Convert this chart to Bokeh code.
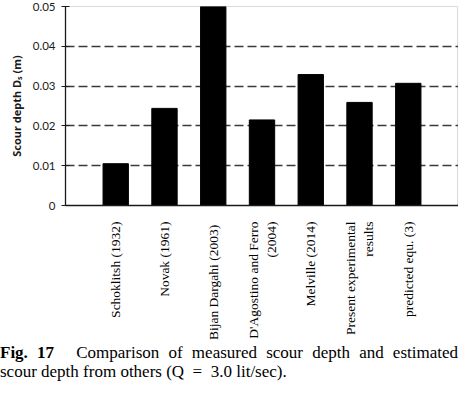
import math
from bokeh.plotting import figure
from bokeh.layouts import column
from bokeh.models import FactorRange, Range1d, FixedTicker, Div, Title
from bokeh.embed import file_html
from bokeh.resources import INLINE

# ---- data ----
categories = [
    "Schoklitsh (1932)",
    "Novak (1961)",
    "Bijan Dargahi  (2003)",
    "D'Agostino and Ferro\n(2004)",
    "Melville (2014)",
    "Present experimental\nresults",
    "predicted equ. (3)",
]
scour_depth = [0.0105, 0.0244, 0.0500, 0.0215, 0.0329, 0.0259, 0.0307]
y_ticks = [0, 0.01, 0.02, 0.03, 0.04, 0.05]
y_tick_labels = ["0", "0.01", "0.02", "0.03", "0.04", "0.05"]
grid_ticks = [0.01, 0.02, 0.03, 0.04]
y_title = "Scour depth D\u209b (m)"
caption_fig = "Fig. 17"
caption_rest1 = "Comparison of measured scour depth and estimated"
caption_line2 = "scour depth from others (Q&ensp;=&ensp;3.0 lit/sec)."

W = 458
H1, H2 = 343, 38
ML, MR, MT = 63, 0, 6
FRAME_BOTTOM = 205
MB = H1 - FRAME_BOTTOM

p1 = figure(
    x_range=FactorRange(factors=categories, range_padding=0.53, range_padding_units="absolute"),
    y_range=Range1d(0, 0.05),
    width=W, height=H1,
    output_backend="svg", toolbar_location=None,
    min_border_left=ML, min_border_right=MR, min_border_top=MT, min_border_bottom=MB,
)
p1.background_fill_color = "white"
p1.border_fill_color = "white"
p1.outline_line_color = "#d9d9d9"
p1.outline_line_width = 1

p1.vbar(x=categories, top=scour_depth, width=0.52, fill_color="#000000", line_color="#000000")

# grid
p1.xgrid.grid_line_color = None
p1.ygrid.ticker = FixedTicker(ticks=grid_ticks)
p1.ygrid.grid_line_color = "#3a3a3a"
p1.ygrid.grid_line_dash = "9 4"
p1.ygrid.grid_line_width = 1.3

# y axis
p1.yaxis.ticker = FixedTicker(ticks=y_ticks)
p1.yaxis.major_label_overrides = {t: l for t, l in zip(y_ticks, y_tick_labels)}
p1.yaxis.major_label_text_font = "Lato"
p1.yaxis.major_label_text_font_size = "11.5px"
p1.yaxis.major_label_text_color = "#1a1a1a"
p1.yaxis.major_label_standoff = 6
p1.yaxis.major_tick_out = 4
p1.yaxis.major_tick_in = 4
p1.yaxis.minor_tick_line_color = None
p1.yaxis.axis_line_color = "#1a1a1a"
p1.yaxis.axis_line_width = 1.3
p1.yaxis.major_tick_line_color = "#1a1a1a"

# y axis title as a side title
p1.add_layout(Title(
    text=y_title, align="center", offset=-30, standoff=12,
    text_font="Noto Sans", text_font_style="bold", text_font_size="11px",
    text_color="#1a1a1a",
), "left")

# x axis
p1.xaxis.major_label_orientation = math.pi / 2
p1.xaxis.major_label_text_font = "Liberation Serif"
p1.xaxis.major_label_text_font_size = "13.5px"
p1.xaxis.major_label_text_color = "#000000"
p1.xaxis.major_label_standoff = 10
p1.xaxis.major_tick_line_color = None
p1.xaxis.minor_tick_line_color = None
p1.xaxis.axis_line_color = "#1a1a1a"
p1.xaxis.axis_line_width = 1.3

# ---- caption below the chart ----
caption_html = (
    '<div style="font-family:\'Liberation Serif\',\'Times New Roman\',serif;font-size:17px;'
    'line-height:19px;color:#000;width:%dpx;margin:0;padding:0;">'
    '<div style="text-align:justify;text-align-last:justify;">'
    '<b style="margin-right:13px;">%s</b> %s</div>'
    '<div style="text-align:left;white-space:nowrap;">%s</div>'
    '</div>' % (W, caption_fig, caption_rest1, caption_line2)
)
cap = Div(text=caption_html, width=W, height=H2, margin=0)

p = column(p1, cap, spacing=0)

open("out.html", "w").write(file_html(p, INLINE))
